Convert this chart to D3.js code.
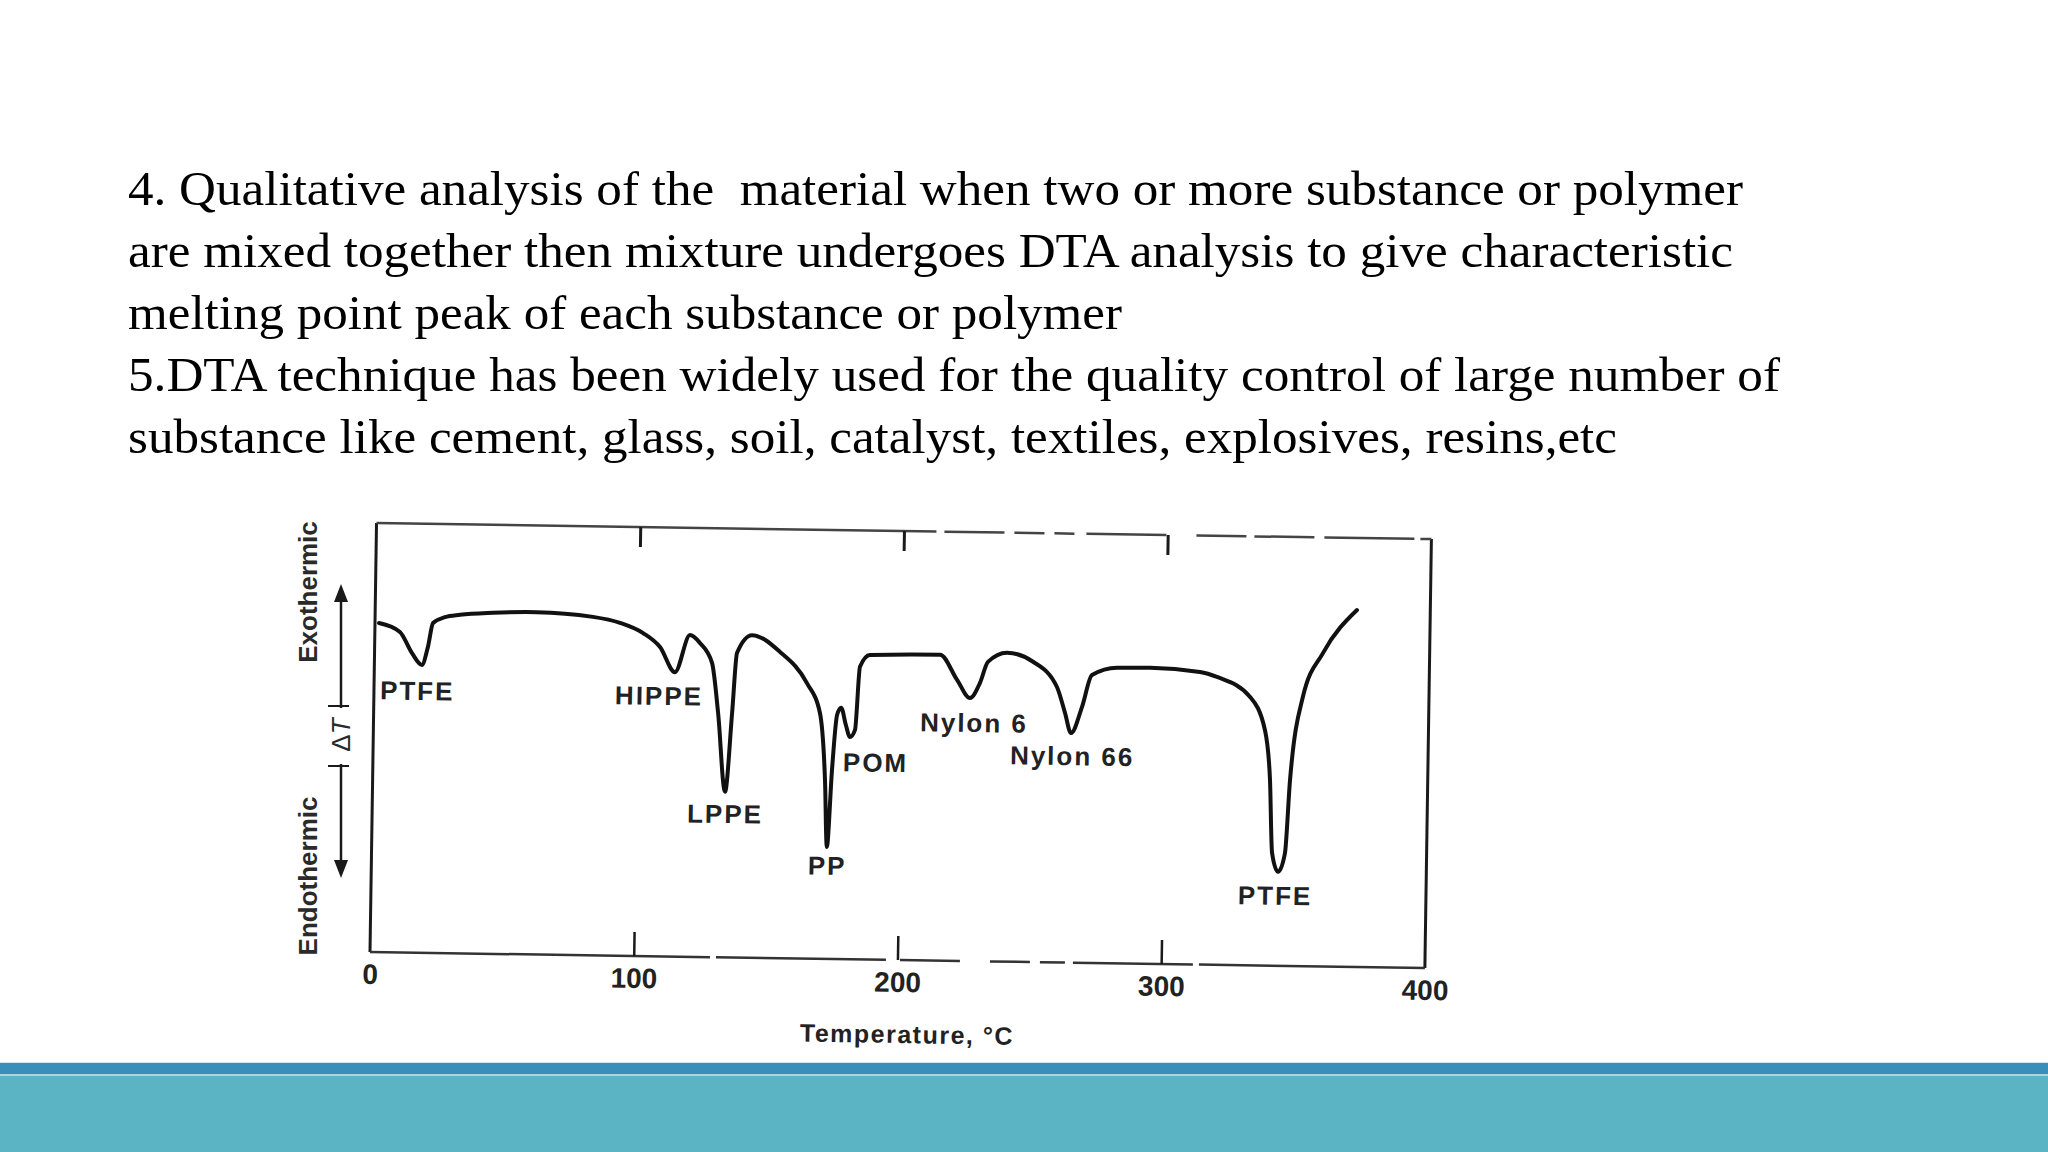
<!DOCTYPE html>
<html>
<head>
<meta charset="utf-8">
<script src="https://cdn.jsdelivr.net/npm/d3@7"></script>
<style>
  body { margin: 0; background: #fff; }
  svg { display: block; }
</style>
</head>
<body>
<svg id="slide" width="2048" height="1152"></svg>
<script>
// slide text and the width each line takes on the slide
const bodyLines = [
  "4. Qualitative analysis of the \u00a0material when two or more substance or polymer",
  "are mixed together then mixture undergoes DTA analysis to give characteristic",
  "melting point peak of each substance or polymer",
  "5.DTA technique has been widely used for the quality control of large number of",
  "substance like cement, glass, soil, catalyst, textiles, explosives, resins,etc"
];
const bodyWidths = [1615, 1605, 994, 1652, 1489];

// DTA trace: temperature (°C) and ΔT (relative units, 0 = bottom frame, 100 = top frame)
const tempC = [1.5, 9.5, 14.2, 18.0, 20.2, 22.0, 26.5, 32.2, 44.7, 61.3, 82.6, 92.9, 101.7, 108.2, 114.0,
  119.5, 123.3, 128.0, 130.6, 133.7, 135.9, 137.4, 143.0, 153.7, 164.1, 169.2, 171.5, 172.6, 174.1,
  175.7, 177.2, 179.1, 180.7, 182.6, 184.1, 187.8, 214.4, 221.0, 226.0, 229.7, 232.6, 239.8, 249.7,
  258.9, 262.1, 264.5, 268.5, 272.1, 281.6, 294.1, 313.0, 319.5, 332.1, 338.0, 340.2, 341.4, 343.8,
  346.3, 347.8, 352.2, 359.6, 372.2];
const deltaT = [76.7, 74.7, 69.8, 67.1, 71.3, 76.9, 78.3, 78.9, 79.5, 79.8, 78.9, 77.6, 75.3, 72.1, 66.3,
  75.0, 73.2, 68.6, 56.9, 38.6, 57.0, 71.0, 75.2, 71.4, 64.2, 57.3, 41.7, 26.1, 44.1,
  56.9, 58.6, 54.6, 51.8, 53.5, 68.2, 71.0, 71.3, 65.5, 61.3, 64.9, 69.8, 72.0, 70.0,
  64.2, 58.2, 53.5, 59.6, 67.1, 68.9, 69.0, 68.2, 67.1, 62.6, 54.9, 43.3, 26.3, 21.9,
  26.3, 43.4, 62.8, 73.1, 83.2];

// peak labels (left edge temperature, centre ΔT)
const peakNames = ["PTFE", "HIPPE", "LPPE", "PP", "POM", "Nylon 6", "Nylon 66", "PTFE"];
const peakTemps = [2.3, 91.4, 119.4, 165.5, 178.2, 207.2, 241.5, 328.7];
const peakVals  = [61.1, 60.8, 33.5, 21.8, 46.0, 55.6, 48.2, 16.4];

const xTicks = [0, 100, 200, 300, 400];
const xInnerTicks = [100, 200, 300];

const svg = d3.select("#slide");

// ---- slide text
svg.append("g")
  .selectAll("text")
  .data(bodyLines)
  .enter().append("text")
  .attr("x", 128)
  .attr("y", (d, i) => 205 + i * 62)
  .attr("font-family", "'Liberation Serif', 'Times New Roman', serif")
  .attr("font-size", 48)
  .attr("fill", "#000")
  .attr("textLength", (d, i) => bodyWidths[i])
  .attr("lengthAdjust", "spacingAndGlyphs")
  .text(d => d);

// ---- footer bands
svg.append("rect").attr("x", 0).attr("y", 1062).attr("width", 2048).attr("height", 1).attr("fill", "#cfe6ee");
svg.append("rect").attr("x", 0).attr("y", 1063).attr("width", 2048).attr("height", 11).attr("fill", "#3a8fba");
svg.append("rect").attr("x", 0).attr("y", 1074).attr("width", 2048).attr("height", 2).attr("fill", "#a9d6e0");
svg.append("rect").attr("x", 0).attr("y", 1076).attr("width", 2048).attr("height", 76).attr("fill", "#5ab4c3");

// ---- the DTA figure (scanned figure is tilted a little)
const plotW = 1055, plotH = 429;
const tilt = 0.87;

const x = d3.scaleLinear().domain([0, 400]).range([0, plotW]);
const y = d3.scaleLinear().domain([0, 100]).range([0, -plotH]);

const fig = svg.append("g")
  .attr("transform", `translate(370,952) rotate(${tilt})`);

const ink = "#1a1a1a";

// frame
fig.append("line")
  .attr("x1", x(0)).attr("y1", y(0)).attr("x2", x(0)).attr("y2", y(100))
  .attr("stroke", ink).attr("stroke-width", 3);
fig.append("line")
  .attr("x1", x(400)).attr("y1", y(0)).attr("x2", x(400)).attr("y2", y(100))
  .attr("stroke", ink).attr("stroke-width", 3);
fig.append("line")
  .attr("x1", x(0)).attr("y1", y(0)).attr("x2", x(400)).attr("y2", y(0))
  .attr("stroke", "#333").attr("stroke-width", 2.5)
  .attr("stroke-dasharray", "340,6,170,14,60,30,40,10,25,8,120,6,400");
fig.append("line")
  .attr("x1", x(0)).attr("y1", y(100)).attr("x2", x(400)).attr("y2", y(100))
  .attr("stroke", "#444").attr("stroke-width", 2.5)
  .attr("stroke-dasharray", "560,8,60,10,30,10,20,12,80,30,50,8,60,10,90,6,200");

// bottom axis: ticks point inward
const xAxis = d3.axisBottom(x)
  .tickValues(xTicks)
  .tickSizeInner(-24)
  .tickSizeOuter(0)
  .tickPadding(12);

const gx = fig.append("g").call(xAxis);
gx.select(".domain").remove();
gx.selectAll(".tick line")
  .attr("stroke", ink).attr("stroke-width", 2.5)
  .filter(d => xInnerTicks.indexOf(d) < 0).remove();
gx.selectAll(".tick text")
  .attr("font-family", "'Liberation Sans', Arial, sans-serif")
  .attr("font-weight", "bold")
  .attr("font-size", 28)
  .attr("fill", "#222");

// top axis: tick marks only
const xTop = d3.axisTop(x)
  .tickValues(xInnerTicks)
  .tickSizeInner(-20)
  .tickSizeOuter(0)
  .tickFormat("");
const gt = fig.append("g").attr("transform", `translate(0,${y(100)})`).call(xTop);
gt.select(".domain").remove();
gt.selectAll(".tick line").attr("stroke", ink).attr("stroke-width", 3);

// x-axis title
fig.append("text")
  .attr("x", x(204))
  .attr("y", 83)
  .attr("text-anchor", "middle")
  .attr("font-family", "'Liberation Sans', Arial, sans-serif")
  .attr("font-weight", "bold")
  .attr("font-size", 25)
  .attr("letter-spacing", 1.5)
  .attr("fill", "#222")
  .text("Temperature, \u00b0C");

// curve
const pts = tempC.map((t, i) => [t, deltaT[i]]);
const line = d3.line()
  .x(d => x(d[0]))
  .y(d => y(d[1]))
  .curve(d3.curveMonotoneX);

fig.append("path")
  .datum(pts)
  .attr("d", line)
  .attr("fill", "none")
  .attr("stroke", "#111")
  .attr("stroke-width", 4)
  .attr("stroke-linejoin", "round")
  .attr("stroke-linecap", "round");

// peak labels
fig.append("g")
  .selectAll("text")
  .data(peakNames)
  .enter().append("text")
  .attr("x", (d, i) => x(peakTemps[i]))
  .attr("y", (d, i) => y(peakVals[i]))
  .attr("dy", "0.36em")
  .attr("font-family", "'Liberation Sans', Arial, sans-serif")
  .attr("font-weight", "bold")
  .attr("font-size", 26)
  .attr("letter-spacing", 2)
  .attr("fill", "#222")
  .text(d => d);

// ---- y-axis label (Endothermic <- ΔT -> Exothermic)
const yl = svg.append("g");
const labelFont = "'Liberation Sans', Arial, sans-serif";

yl.append("text")
  .attr("transform", "translate(317,592) rotate(-90)")
  .attr("text-anchor", "middle")
  .attr("font-family", labelFont)
  .attr("font-weight", "bold")
  .attr("font-size", 26)
  .attr("fill", "#2a2a2a")
  .text("Exothermic");

yl.append("text")
  .attr("transform", "translate(317,876) rotate(-90)")
  .attr("text-anchor", "middle")
  .attr("font-family", labelFont)
  .attr("font-weight", "bold")
  .attr("font-size", 26)
  .attr("fill", "#2a2a2a")
  .text("Endothermic");

const dt = yl.append("text")
  .attr("transform", "translate(350,735) rotate(-90)")
  .attr("text-anchor", "middle")
  .attr("font-family", labelFont)
  .attr("font-size", 26)
  .attr("fill", "#2a2a2a");
dt.append("tspan").text("\u0394");
dt.append("tspan").attr("font-style", "italic").text("T");

yl.append("line").attr("x1", 341).attr("y1", 598).attr("x2", 341).attr("y2", 708)
  .attr("stroke", ink).attr("stroke-width", 2.5);
yl.append("line").attr("x1", 341).attr("y1", 764).attr("x2", 341).attr("y2", 864)
  .attr("stroke", ink).attr("stroke-width", 2.5);
yl.append("line").attr("x1", 328).attr("y1", 706).attr("x2", 349).attr("y2", 706)
  .attr("stroke", ink).attr("stroke-width", 2);
yl.append("line").attr("x1", 328).attr("y1", 766).attr("x2", 349).attr("y2", 766)
  .attr("stroke", ink).attr("stroke-width", 2);
yl.append("path").attr("d", "M341,584 L334,602 L348,602 Z").attr("fill", ink);
yl.append("path").attr("d", "M341,878 L334,860 L348,860 Z").attr("fill", ink);
</script>
</body>
</html>
